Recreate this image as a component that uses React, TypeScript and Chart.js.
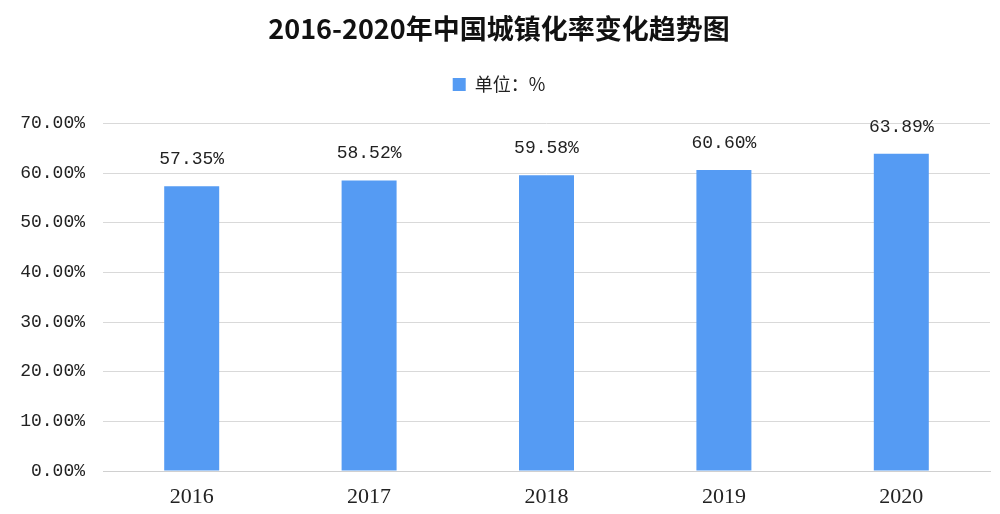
import React, { useEffect, useRef } from "react";
import { Chart, registerables } from "chart.js";

Chart.register(...registerables);

const categories = ["2016", "2017", "2018", "2019", "2020"];
const urbanRate = [57.35, 58.52, 59.58, 60.6, 63.89];
const yTicks = [0, 10, 20, 30, 40, 50, 60, 70];
const titleText = "2016-2020年中国城镇化率变化趋势图";
const seriesLabel = "单位：%";

const BAR_COLOR = "#559bf3";

const valueLabels = {
  id: "valueLabels",
  afterDatasetsDraw(chart: any) {
    const ctx = chart.ctx;
    const meta = chart.getDatasetMeta(0);
    ctx.save();
    ctx.font = "18px 'Liberation Mono', monospace";
    ctx.fillStyle = "#222";
    ctx.textAlign = "center";
    ctx.textBaseline = "bottom";
    meta.data.forEach((bar: any, i: number) => {
      ctx.fillText(urbanRate[i].toFixed(2) + "%", bar.x, bar.y - 18);
    });
    ctx.restore();
  },
};

const legendSpace = {
  id: "legendSpace",
  beforeLayout(chart: any) {
    const lg = chart.legend;
    if (lg && !lg.__patched) {
      const orig = lg.fit.bind(lg);
      lg.fit = function () {
        orig();
        this.height += 20;
      };
      lg.__patched = true;
    }
  },
};

export default function App() {
  const ref = useRef<HTMLCanvasElement>(null);
  useEffect(() => {
    const chart = new Chart(ref.current!, {
      type: "bar",
      data: {
        labels: categories,
        datasets: [
          {
            label: seriesLabel,
            data: urbanRate,
            backgroundColor: BAR_COLOR,
            borderWidth: 0,
            barPercentage: 0.31,
            categoryPercentage: 1,
          },
        ],
      },
      options: {
        responsive: false,
        animation: false,
        layout: { padding: { left: 8, right: 10, top: 0, bottom: 0 } },
        plugins: {
          title: {
            display: true,
            text: titleText,
            color: "#111",
            font: { family: "'Noto Sans CJK SC'", size: 27, weight: "bold" },
            padding: { top: 13, bottom: 16 },
          },
          legend: {
            display: true,
            labels: {
              color: "#222",
              font: { family: "'Noto Sans CJK SC'", size: 18 },
              boxWidth: 13,
              boxHeight: 13,
              padding: 14,
            },
          },
          tooltip: { enabled: false },
        },
        scales: {
          x: {
            grid: { display: false },
            border: { color: "#d0d0d0", width: 1 },
            afterFit(scale: any) {
              scale.height = 43;
            },
            ticks: {
              color: "#222",
              font: { family: "'Liberation Serif', serif", size: 22 },
              padding: 5,
            },
          },
          y: {
            min: 0,
            max: 70,
            afterBuildTicks(scale: any) {
              scale.ticks = yTicks.map((v) => ({ value: v }));
            },
            afterFit(scale: any) {
              scale.width = 95;
            },
            grid: { color: "#d9d9d9", drawTicks: false },
            border: { display: false },
            ticks: {
              color: "#222",
              font: { family: "'Liberation Mono', monospace", size: 18 },
              padding: 18,
              callback: (v: any) => Number(v).toFixed(2) + "%",
            },
          },
        },
      },
      plugins: [valueLabels, legendSpace],
    });
    return () => chart.destroy();
  }, []);
  return (
    <div style={{ position: "fixed", left: 0, top: 0, width: 1000, height: 514, background: "#fff" }}>
      <canvas ref={ref} width={1000} height={514} />
    </div>
  );
}
